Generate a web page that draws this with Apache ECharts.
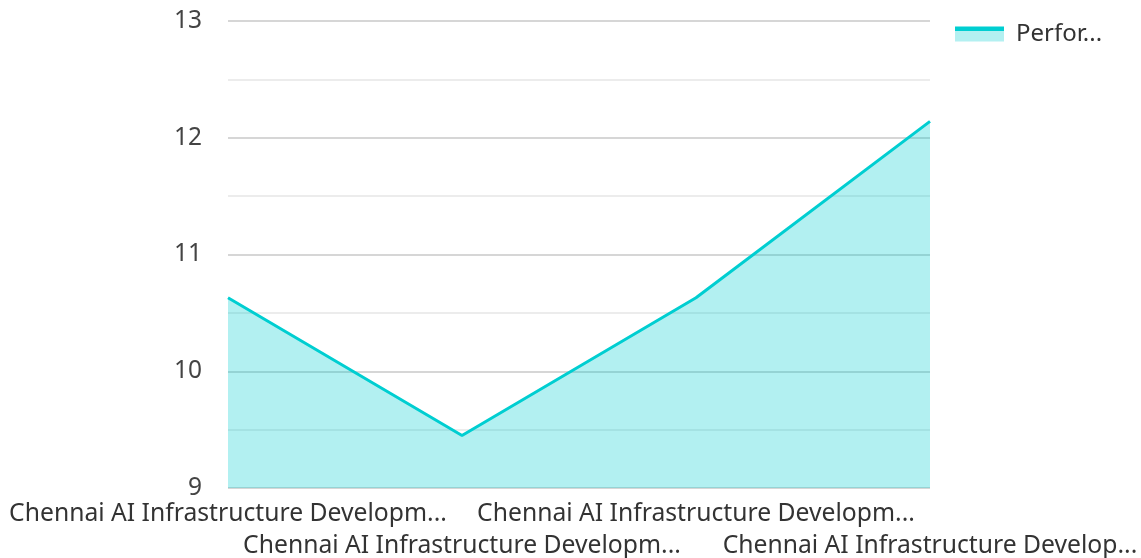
<!DOCTYPE html>
<html>
<head>
<meta charset="utf-8">
<script src="https://cdn.jsdelivr.net/npm/echarts@6/dist/echarts.min.js"></script>
<style>
  html, body { margin: 0; padding: 0; background: #fff; }
  #main { width: 1141px; height: 558px; }
</style>
</head>
<body>
<div id="main"></div>
<script>
var categories = [
    'Chennai AI Infrastructure Development Phase 1',
    'Chennai AI Infrastructure Development Phase 2',
    'Chennai AI Infrastructure Development Phase 3',
    'Chennai AI Infrastructure Development Phase 4'
];
var seriesName = 'Performance Index';
var values = [10.63, 9.45, 10.63, 12.14];
var yTicks = [9, 10, 11, 12, 13];

var lineColor = '#00CED1';
var areaColor = '#b3f0f1';

// the last label sits against the right edge, give it a narrower box
var xData = categories.map(function (name, i) {
    if (i === categories.length - 1) {
        return { value: name, textStyle: { width: 432, overflow: 'truncate' } };
    }
    return name;
});

var myChart = echarts.init(document.getElementById('main'));
var option = {
    textStyle: { fontFamily: 'Noto Sans' },
    legend: {
        left: 950,
        top: 17,
        itemWidth: 49,
        itemHeight: 15,
        icon: 'rect',
        itemStyle: {
            borderWidth: 0,
            color: new echarts.graphic.LinearGradient(0, 0, 0, 1, [
                { offset: 0, color: lineColor },
                { offset: 0.27, color: lineColor },
                { offset: 0.27, color: areaColor },
                { offset: 1, color: areaColor }
            ])
        },
        textStyle: {
            fontSize: 24,
            color: '#333',
            width: 102,
            overflow: 'truncate',
            padding: [0, 0, 9, 7]
        },
        data: [seriesName]
    },
    grid: {
        left: 228,
        right: 211,
        top: 21,
        bottom: 70,
        containLabel: false,
        outerBoundsMode: 'none'
    },
    xAxis: {
        type: 'category',
        boundaryGap: false,
        data: xData,
        axisLine: { show: false },
        axisTick: { show: false },
        axisLabel: {
            interval: 0,
            fontSize: 24.7,
            color: '#333',
            margin: 10,
            lineHeight: 32,
            width: 442,
            overflow: 'truncate',
            formatter: function (val, idx) {
                return idx % 2 === 1 ? '\n' + val : val;
            }
        }
    },
    yAxis: {
        type: 'value',
        min: yTicks[0],
        max: yTicks[yTicks.length - 1],
        interval: 1,
        axisLine: { show: false },
        axisTick: { show: false },
        axisLabel: { fontSize: 24.5, color: '#444', margin: 26 },
        splitLine: { lineStyle: { color: '#c8c8c8', width: 1.5 } },
        minorTick: { show: false, splitNumber: 2 },
        minorSplitLine: { show: true, lineStyle: { color: '#e6e6e6', width: 1.5 } }
    },
    series: [
        {
            name: seriesName,
            type: 'line',
            data: values,
            symbol: 'none',
            lineStyle: { color: lineColor, width: 3 },
            itemStyle: { color: lineColor },
            areaStyle: { color: lineColor, opacity: 0.3 }
        }
    ]
};
myChart.setOption(option);
</script>
</body>
</html>
